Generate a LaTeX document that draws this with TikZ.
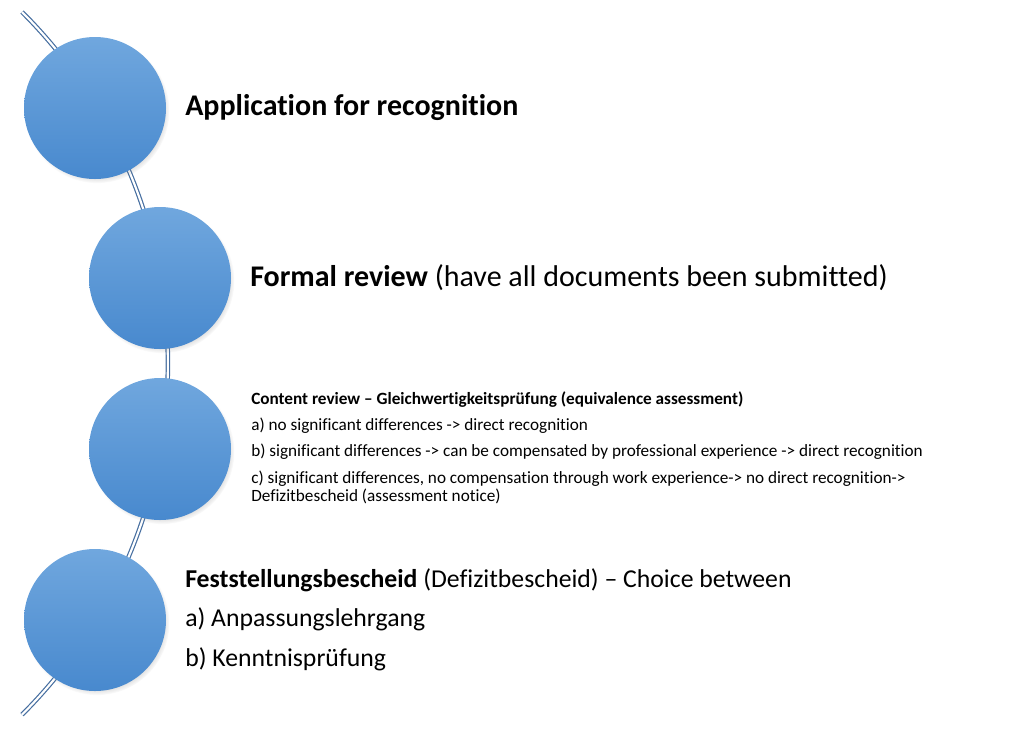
\documentclass[tikz,border=0pt]{standalone}
\usepackage{fontspec}
\setmainfont{Carlito}[Ligatures=CommonOff]
\usetikzlibrary{shadows}
\definecolor{balltop}{RGB}{112,167,222}
\definecolor{ballbot}{RGB}{72,137,206}
\definecolor{trackblue}{RGB}{70,110,160}

\begin{document}
\begin{tikzpicture}[x=0.75pt,y=-0.75pt,
  ball/.style={circle, minimum size=106.5pt, inner sep=0pt, top color=balltop, bottom color=ballbot, draw=none,
    circular drop shadow={shadow xshift=1.5pt, shadow yshift=-2pt, shadow scale=1.02, opacity=.45}},
  track/.style={draw=trackblue, line width=0.9pt, double=white, double distance=1.6pt},
  bigtxt/.style={anchor=base west, inner sep=0pt, font=\fontsize{22.5}{27}\selectfont},
  midtxt/.style={anchor=base west, inner sep=0pt, font=\fontsize{19.3}{23}\selectfont},
  smalltxt/.style={anchor=base west, inner sep=0pt, font=\fontsize{12.9}{15}\selectfont}]

\path[use as bounding box] (0,0) rectangle (1010,733);

\coordinate (top) at (22,12);
\draw[track] (top) arc[start angle=45.1, end angle=-45.1, radius=372pt];

\node (apply) at (95,108) [ball] {};
\node (formal) at (160,278) [ball] {};
\node (content) at (160,449) [ball] {};
\node (decision) at (95,620) [ball] {};

\node (applytxt) at (185,115) [bigtxt] {\textbf{Application for recognition}};
\node (formaltxt) at (250,286) [bigtxt] {\textbf{Formal review} (have all documents been submitted)};

\node (contenthead) at (251,404) [smalltxt] {\textbf{Content review – Gleichwertigkeitsprüfung (equivalence assessment)}};
\node (contenta) at (251,430) [smalltxt] {a) no significant differences -> direct recognition};
\node (contentb) at (251,456) [smalltxt] {b) significant differences -> can be compensated by professional experience -> direct recognition};
\node (contentc) at (251,483) [smalltxt] {c) significant differences, no compensation through work experience-> no direct recognition->};
\node (contentd) at (251,501) [smalltxt] {Defizitbescheid (assessment notice)};

\node (decisiontxt) at (185,587) [midtxt] {\textbf{Feststellungsbescheid} (Defizitbescheid) – Choice between};
\node (decisiona) at (185,626) [midtxt] {a) Anpassungslehrgang};
\node (decisionb) at (185,666) [midtxt] {b) Kenntnisprüfung};
\end{tikzpicture}
\end{document}
